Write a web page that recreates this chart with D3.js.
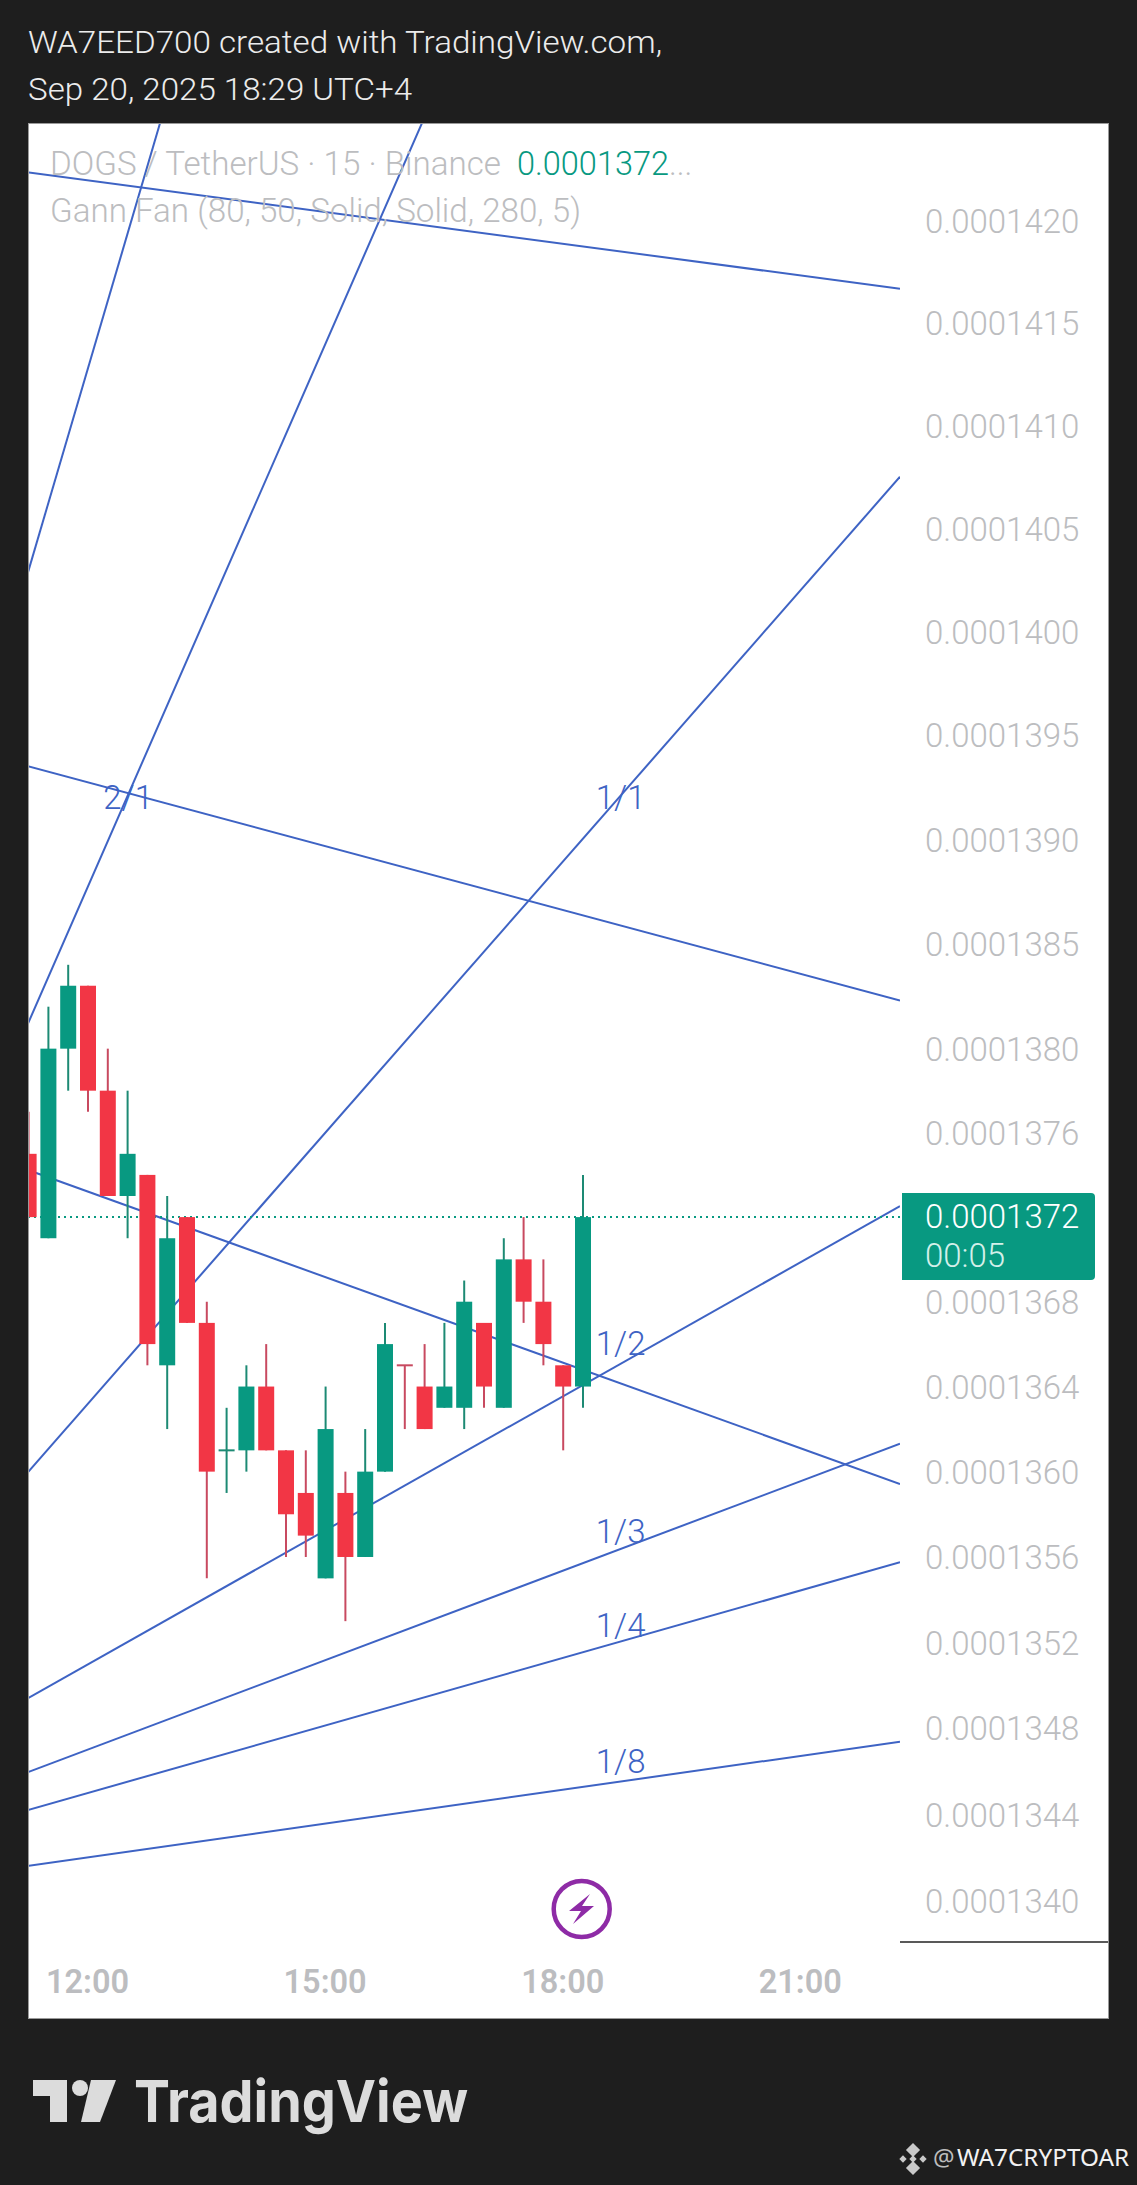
<!DOCTYPE html>
<html>
<head>
<meta charset="utf-8">
<script src="https://cdn.jsdelivr.net/npm/d3@7"></script>
<style>
html,body{margin:0;padding:0;background:#1e1e1e;}
svg{display:block;}
text{font-family:Roboto,sans-serif;}
</style>
</head>
<body>
<script>
// Prices are in units of 0.0000001. Bars are 15-minute bars; index 0 = 12:00.
const barIndex = d3.range(-3, 26);
const opens  = [1375,1371,1380,1383,1378,1373,1374,1365,1372,1367,1361,1361,1364,1361,1359,1355,1359,1356,1360,1365,1364,1363,1363,1367,1363,1370,1368,1365,1364];
const closes = [1372,1380,1383,1378,1373,1375,1366,1371,1367,1360,1361,1364,1361,1358,1357,1362,1356,1360,1366,1365,1362,1364,1368,1364,1370,1368,1366,1364,1372];
const highs  = [1377,1382,1384,1383,1380,1378,1374,1373,1372,1368,1363,1365,1366,1361,1361,1364,1360,1362,1367,1365,1366,1367,1369,1367,1371,1372,1370,1365,1374];
const lows   = [1372,1371,1378,1377,1373,1371,1365,1362,1367,1355,1359,1360,1361,1356,1356,1355,1353,1356,1360,1362,1362,1363,1362,1363,1363,1367,1365,1361,1363];

const priceTicks = [1340,1344,1348,1352,1356,1360,1364,1368,1376,1380,1385,1390,1395,1400,1405,1410,1415,1420];
const timeTicks = [0,12,24,36];
const timeLabels = ["12:00","15:00","18:00","21:00"];
const lastPrice = 1372;

// Gann fan rays: [bar index, price, bar index, price]
const fanRays = [
  [-3.03,1402.88, 3.64,1424.8],
  [-3.03,1381.2,16.87,1424.8],
  [-3.03,1359.98,41.01,1407.51],
  [-3.03,1349.41,41.01,1372.52],
  [-3.03,1345.97,41.01,1361.31],
  [-3.03,1344.21,41.01,1355.76],
  [-3.03,1341.62,41.01,1347.38],
  [-3.03,1422.38,41.01,1416.67],
  [-3.03,1393.52,41.01,1382.29],
  [-3.03,1374.23,41.01,1359.42]
];
const fanNames = ["2/1","1/1","1/2","1/3","1/4","1/8"];
const fanNameBars = [2.03,26.9,26.9,26.9,26.9,26.9];
const fanNamePrices = [1392.03,1392.03,1366.05,1357.21,1352.82,1346.48];

const W=1137,H=2185;
const x = d3.scaleLinear().domain([0,12]).range([88,325.6]);
const y = d3.scaleLog().domain([1338.1,1424.8]).range([1942,123]);

const BLUE="#3e63c4",GREEN="#089981",RED="#f23645",GREENW="#1d8a74",REDW="#c84a60",GREY="#bcbdc0";

const svg=d3.select("body").append("svg").attr("width",W).attr("height",H);
svg.append("rect").attr("width",W).attr("height",H).attr("fill","#1e1e1e");
svg.append("rect").attr("x",28.5).attr("y",123.5).attr("width",1080).attr("height",1895).attr("fill","#fff").attr("stroke","#9a9a9a");

const defs=svg.append("defs");
defs.append("clipPath").attr("id","pane").append("rect").attr("x",29).attr("y",124).attr("width",871).attr("height",1818);

// header
const head=svg.append("g").attr("fill","#ececec").style("font-size","32px").style("font-weight","300");
head.append("text").attr("x",28).attr("y",53).attr("textLength",634).attr("lengthAdjust","spacingAndGlyphs").text("WA7EED700 created with TradingView.com,");
head.append("text").attr("x",28).attr("y",100).attr("textLength",384).attr("lengthAdjust","spacingAndGlyphs").text("Sep 20, 2025 18:29 UTC+4");

const pane=svg.append("g").attr("clip-path","url(#pane)");

// fan rays
pane.selectAll("line.ray").data(fanRays).join("line").attr("class","ray")
  .attr("x1",d=>x(d[0])).attr("y1",d=>y(d[1])).attr("x2",d=>x(d[2])).attr("y2",d=>y(d[3]))
  .attr("stroke",BLUE).attr("stroke-width",2);

// last price line
pane.append("line").attr("x1",x.range()[0]-60).attr("x2",900).attr("y1",y(lastPrice)).attr("y2",y(lastPrice))
  .attr("stroke",GREEN).attr("stroke-width",2).attr("stroke-dasharray","2 4");

// candles
const bars=barIndex.map((b,i)=>({b,o:opens[i],c:closes[i],h:highs[i],l:lows[i],doji:opens[i]===closes[i]}));
const isUp=d=>d.c>d.o||(d.doji&&d.b===7);
const candle=pane.selectAll("g.candle").data(bars).join("g").attr("class","candle");
candle.append("line").attr("x1",d=>x(d.b)).attr("x2",d=>x(d.b)).attr("y1",d=>y(d.h)).attr("y2",d=>y(d.l))
  .attr("stroke",d=>isUp(d)?GREENW:REDW).attr("stroke-width",2);
candle.append("rect").attr("x",d=>x(d.b)-8).attr("width",16)
  .attr("y",d=>y(Math.max(d.o,d.c))-(d.doji?1:0))
  .attr("height",d=>d.doji?2:y(Math.min(d.o,d.c))-y(Math.max(d.o,d.c)))
  .attr("fill",d=>isUp(d)?(d.doji?GREENW:GREEN):(d.doji?REDW:RED));

// fan labels
pane.selectAll("text.fan").data(fanNames).join("text").attr("class","fan")
  .attr("x",(d,i)=>x(fanNameBars[i])).attr("y",(d,i)=>y(fanNamePrices[i]))
  .attr("text-anchor","middle").attr("dy",".36em").attr("fill",BLUE).style("font-size","33px").style("font-weight","300").text(d=>d);

// legend
const leg=svg.append("g").style("font-size","32.5px").style("font-weight","300").attr("fill",GREY);
leg.append("text").attr("x",50).attr("y",175).attr("textLength",451).attr("lengthAdjust","spacingAndGlyphs").text("DOGS / TetherUS · 15 · Binance");
const val=leg.append("text").attr("x",517).attr("y",175);
val.append("tspan").attr("fill",GREEN).text("0.0001372");
val.append("tspan").text("...");
leg.append("text").attr("x",50).attr("y",222).attr("textLength",531).attr("lengthAdjust","spacingAndGlyphs").text("Gann Fan (80, 50, Solid, Solid, 280, 5)");

// price axis
const yAxis=d3.axisRight(y).tickValues(priceTicks).tickSize(0).tickPadding(0).tickFormat(d=>"0.000"+d);
const gy=svg.append("g").attr("transform","translate(925,1)").call(yAxis);
gy.select(".domain").remove();
gy.selectAll("text").attr("fill",GREY).style("font-size","33px").style("font-weight","300").style("font-family","Roboto,sans-serif");

// time axis
const xAxis=d3.axisBottom(x).tickValues(timeTicks).tickSize(0).tickPadding(0).tickFormat((d,i)=>timeLabels[i]);
const gx=svg.append("g").attr("transform","translate(-1,1968)").call(xAxis);
gx.select(".domain").remove();
gx.selectAll("text").attr("fill",GREY).attr("dy",0).attr("y",25).style("font-size","32.5px").style("font-weight","600").style("font-family","Roboto,sans-serif");

// axis corner rule
svg.append("line").attr("x1",900).attr("x2",1108).attr("y1",1942).attr("y2",1942).attr("stroke","#222").attr("stroke-width",1.5);

// last price tag
svg.append("path").attr("d","M902 1193H1091a4 4 0 0 1 4 4V1276a4 4 0 0 1 -4 4H902Z").attr("fill",GREEN);
svg.append("text").attr("x",925).attr("y",1228).attr("fill","#fff").style("font-size","33px").style("font-weight","300").text("0.000"+lastPrice);
svg.append("text").attr("x",925).attr("y",1267).attr("fill","#d4f0ea").style("font-size","33px").style("font-weight","300").text("00:05");

// event marker
svg.append("circle").attr("cx",581.7).attr("cy",1909).attr("r",28).attr("fill","#fff").attr("stroke","#8e2ba6").attr("stroke-width",4.5);
svg.append("path").attr("d","M590 1894L569 1911H581L573 1924L594 1906H582Z").attr("fill","#8e2ba6");

// logo
const logo=svg.append("g").attr("fill","#dcdcdc");
logo.append("path").attr("d","M33 2080H67V2122H50V2096H33Z");
logo.append("circle").attr("cx",80).attr("cy",2088).attr("r",8);
logo.append("path").attr("d","M91 2080H116L100 2122H81Z");
logo.append("text").attr("x",134).attr("y",2122).attr("textLength",334).attr("lengthAdjust","spacingAndGlyphs")
  .style("font-family","Inter,sans-serif").style("font-weight","700").style("font-size","58px").text("TradingView");

// watermark
const bn=svg.append("g").attr("fill","#c9c9c9").attr("transform","translate(913,2159)");
[[0,-9,5],[0,9,5],[-10,0,2.6],[10,0,2.6],[0,0,2.6]].forEach(([a,b,s],i)=>{
  bn.append("rect").attr("x",a-s).attr("y",b-s).attr("width",2*s).attr("height",2*s).attr("transform",`rotate(45 ${a} ${b})`);
});
svg.append("text").attr("x",933).attr("y",2166).attr("fill","#bdbdbd").style("font-family","'Noto Sans',sans-serif").style("font-size","24px").text("@");
svg.append("text").attr("x",957).attr("y",2166).attr("textLength",172).attr("lengthAdjust","spacingAndGlyphs").attr("fill","#f2f2f2").style("font-family","'Noto Sans',sans-serif").style("font-size","24px").text("WA7CRYPTOAR");
</script>
</body>
</html>
